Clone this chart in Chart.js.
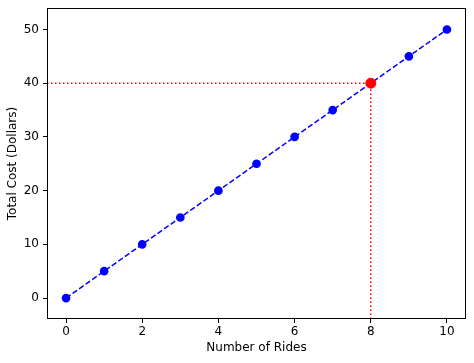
<!DOCTYPE html>
<html><head><meta charset="utf-8">
<script src="https://cdn.jsdelivr.net/npm/chart.js@4/dist/chart.umd.min.js"></script>
<style>html,body{margin:0;padding:0;background:#fff}#wrap{width:474px;height:363px}</style>
</head><body><div id="wrap"><canvas id="c"></canvas></div>
<script>
const rides = [0,1,2,3,4,5,6,7,8,9,10];
const costs = [0,5,10,15,20,25,30,35,40,45,50];
const highlightX = 8;
const highlightY = 40;
const xTicks = [0,2,4,6,8,10];
const yTicks = [0,10,20,30,40,50];
const X_MIN = -0.5, X_MAX = 10.5, Y_MIN = -3.9, Y_MAX = 54;

const FONT = {family:'"DejaVu Sans", sans-serif', size: 12};
const boxPlugin = {
  id:'box',
  afterDraw(chart){
    const a = chart.chartArea, ctx = chart.ctx;
    ctx.save(); ctx.strokeStyle='#000'; ctx.lineWidth=1;
    ctx.strokeRect(Math.round(a.left)+0.5, Math.round(a.top)+0.5, Math.round(a.right-a.left)-1, Math.round(a.bottom-a.top)-1);
    ctx.restore();
  }
};
new Chart(document.getElementById('c'), {
  type:'line',
  data:{datasets:[
    {data:[{x:highlightX,y:highlightY}], showLine:false, pointRadius:5, pointHoverRadius:5, backgroundColor:'#ff0000', borderColor:'#ff0000', order:0},
    {data:[{x:X_MIN,y:highlightY},{x:highlightX,y:highlightY}], borderColor:'#ff0000', borderWidth:1.5, borderDash:[1.5,2.5], pointRadius:0, order:1},
    {data:[{x:highlightX,y:Y_MIN},{x:highlightX,y:highlightY}], borderColor:'#ff0000', borderWidth:1.5, borderDash:[1.5,2.5], pointRadius:0, order:2},
    {data:rides.map((r,i)=>({x:r,y:costs[i]})), borderColor:'#0000ff', backgroundColor:'#0000ff', borderWidth:1.5, borderDash:[5.5,2.5], pointRadius:3.6, pointHoverRadius:3.6, order:3}
  ]},
  options:{
    responsive:true, maintainAspectRatio:false, animation:false,
    layout:{padding:{top:8,right:8,left:6,bottom:8}},
    plugins:{legend:{display:false}, tooltip:{enabled:false}},
    scales:{
      x:{type:'linear', min:X_MIN, max:X_MAX,
        afterBuildTicks(s){s.ticks = xTicks.map(v=>({value:v}));},
        afterFit(s){s.height = 36; s.paddingLeft = 0; s.paddingRight = 0;},
        grid:{drawOnChartArea:false, drawTicks:true, tickLength:4, color:'#000'},
        border:{display:false},
        ticks:{color:'#000', font:FONT, padding:2, maxRotation:0, autoSkip:false},
        title:{display:true, text:'Number of Rides', color:'#000', font:FONT, padding:0}
      },
      y:{type:'linear', min:Y_MIN, max:Y_MAX,
        afterBuildTicks(s){s.ticks = yTicks.map(v=>({value:v}));},
        afterFit(s){s.width = 41; s.paddingTop = 0; s.paddingBottom = 0;},
        grid:{drawOnChartArea:false, drawTicks:true, tickLength:4, color:'#000'},
        border:{display:false},
        ticks:{color:'#000', font:FONT, padding:4, autoSkip:false},
        title:{display:true, text:'Total Cost (Dollars)', color:'#000', font:FONT, padding:0}
      }
    }
  },
  plugins:[boxPlugin]
});
</script></body></html>
